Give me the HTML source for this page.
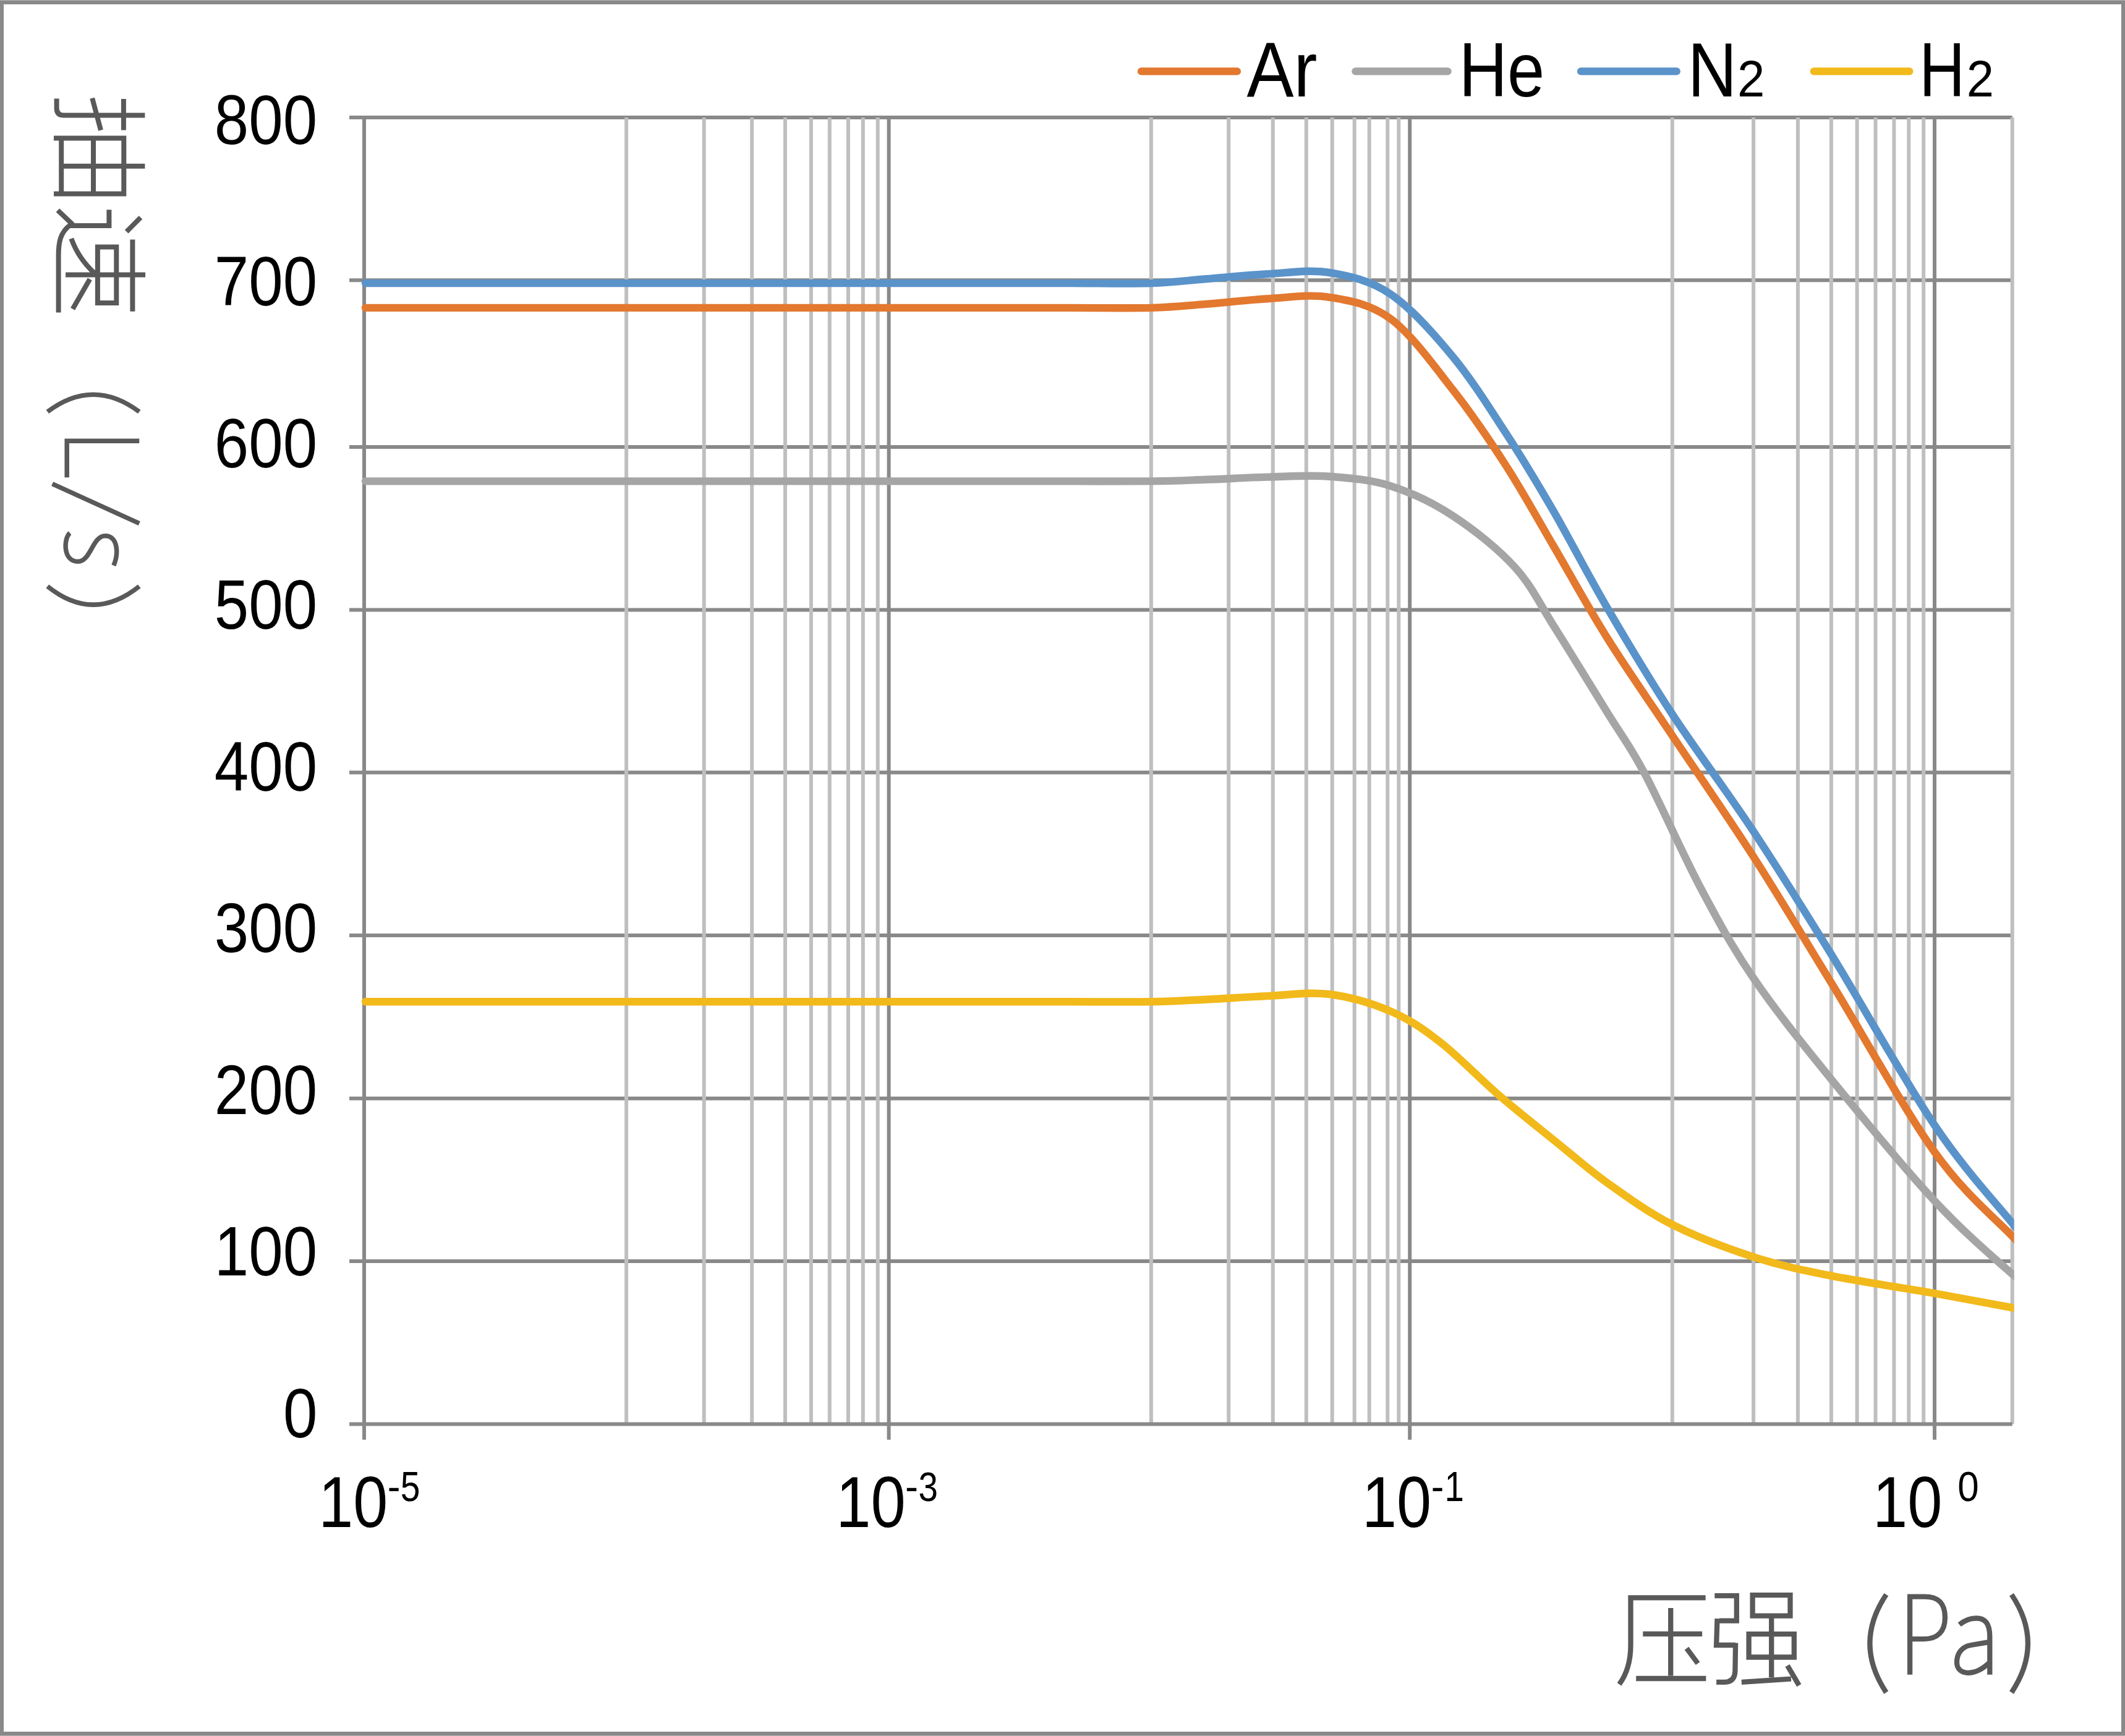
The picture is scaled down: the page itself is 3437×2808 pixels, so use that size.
<!DOCTYPE html><html><head><meta charset="utf-8"><style>html,body{margin:0;padding:0;background:#fff;overflow:hidden}svg{display:block}text{font-family:"Liberation Sans",sans-serif}</style></head><body>
<svg width="3437" height="2808" viewBox="0 0 3437 2808">
<rect x="0" y="0" width="3437" height="2808" fill="#fff"/>
<rect x="3" y="4" width="3431" height="2800" fill="none" stroke="#898989" stroke-width="6"/>
<path d="M0,0.5H3437 M0,2807.5H3437" stroke="#b4b4b4" stroke-width="1"/>
<path d="M565,189.9H3254.7 M565,453.2H3254.7 M565,723.0H3254.7 M565,986.4H3254.7 M565,1249.5H3254.7 M565,1512.9H3254.7 M565,1776.7H3254.7 M565,2040.0H3254.7" stroke="#898989" stroke-width="6" fill="none"/>
<path d="M1013.1,189.9V2303.5 M1138.7,189.9V2303.5 M1216.2,189.9V2303.5 M1270.0,189.9V2303.5 M1311.9,189.9V2303.5 M1341.8,189.9V2303.5 M1371.9,189.9V2303.5 M1395.8,189.9V2303.5 M1419.7,189.9V2303.5 M1861.9,189.9V2303.5 M1987.2,189.9V2303.5 M2058.8,189.9V2303.5 M2112.8,189.9V2303.5 M2154.7,189.9V2303.5 M2190.7,189.9V2303.5 M2214.7,189.9V2303.5 M2244.3,189.9V2303.5 M2262.3,189.9V2303.5 M2704.8,189.9V2303.5 M2836.1,189.9V2303.5 M2907.9,189.9V2303.5 M2961.9,189.9V2303.5 M3003.6,189.9V2303.5 M3033.5,189.9V2303.5 M3063.4,189.9V2303.5 M3087.3,189.9V2303.5 M3111.2,189.9V2303.5 M3254.7,189.9V2303.5" stroke="#bfbfbf" stroke-width="6" fill="none"/>
<path d="M589.0,189.9V2328.8 M1437.6,189.9V2328.8 M2280.2,189.9V2328.8 M3129.0,189.9V2328.8 M565,2303.5H3254.7" stroke="#898989" stroke-width="6" fill="none"/>
<defs><clipPath id="pc"><rect x="0" y="0" width="3257.5" height="2808"/></clipPath></defs>
<g clip-path="url(#pc)" fill="none" stroke-width="12.4" stroke-linecap="round" stroke-linejoin="round">
<path d="M591,497.9 L1600.0,497.9 C1621.7,497.9 1686.3,497.9 1730.0,497.9 C1773.7,497.9 1825.3,498.9 1862.0,497.9 C1898.7,496.9 1918.7,494.3 1950.0,491.9 C1981.3,489.5 2016.7,485.1 2050.0,483.3 C2083.3,481.5 2116.7,475.3 2150.0,480.8 C2183.3,486.3 2216.7,491.3 2250.0,516.3 C2283.3,541.3 2319.0,591.2 2350.0,630.7 C2381.0,670.2 2409.0,711.6 2436.0,753.5 C2463.0,795.4 2484.7,835.5 2512.0,882.0 C2539.3,928.5 2568.0,981.5 2600.0,1032.6 C2632.0,1083.7 2664.7,1129.8 2704.0,1188.6 C2743.3,1247.4 2793.0,1318.6 2836.0,1385.5 C2879.0,1452.4 2913.2,1510.2 2962.0,1589.8 C3010.8,1669.4 3079.8,1794.6 3129.0,1863.3 C3178.2,1932.0 3225.2,1968.8 3257.0,2002.0 C3288.8,2035.2 3309.5,2052.6 3320.0,2062.7" stroke="#e3782f"/>
<path d="M591,778.4 L1600.0,778.4 C1621.7,778.4 1686.3,778.4 1730.0,778.4 C1773.7,778.4 1825.3,778.8 1862.0,778.4 C1898.7,778.0 1918.7,776.9 1950.0,775.8 C1981.3,774.7 2016.7,772.5 2050.0,771.6 C2083.3,770.8 2116.7,768.2 2150.0,770.7 C2183.3,773.2 2216.7,775.7 2250.0,786.3 C2283.3,796.9 2316.7,812.7 2350.0,834.5 C2383.3,856.3 2422.5,887.1 2450.0,917.3 C2477.5,947.5 2490.0,976.4 2515.0,1015.7 C2540.0,1055.0 2575.8,1113.8 2600.0,1153.0 C2624.2,1192.2 2635.0,1204.0 2660.0,1251.0 C2685.0,1298.0 2720.7,1379.8 2750.0,1435.0 C2779.3,1490.2 2800.7,1530.3 2836.0,1582.1 C2871.3,1633.9 2913.2,1685.8 2962.0,1745.8 C3010.8,1805.8 3079.8,1889.6 3129.0,1942.4 C3178.2,1995.2 3225.2,2034.9 3257.0,2062.9 C3288.8,2090.9 3309.5,2102.7 3320.0,2110.6" stroke="#a5a5a5"/>
<path d="M591,458.1 L1600.0,458.1 C1621.7,458.1 1686.3,458.1 1730.0,458.1 C1773.7,458.1 1825.3,459.2 1862.0,458.1 C1898.7,457.0 1918.7,453.7 1950.0,451.2 C1981.3,448.7 2016.7,445.0 2050.0,443.3 C2083.3,441.6 2116.7,435.4 2150.0,440.9 C2183.3,446.4 2216.7,453.6 2250.0,476.3 C2283.3,499.0 2319.0,539.7 2350.0,577.2 C2381.0,614.7 2409.0,659.8 2436.0,701.2 C2463.0,742.6 2484.7,778.6 2512.0,825.7 C2539.3,872.8 2568.0,929.2 2600.0,983.9 C2632.0,1038.6 2664.7,1093.9 2704.0,1154.0 C2743.3,1214.1 2793.0,1279.6 2836.0,1344.6 C2879.0,1409.6 2913.2,1464.6 2962.0,1543.8 C3010.8,1623.0 3079.8,1747.1 3129.0,1820.0 C3178.2,1892.9 3225.2,1942.4 3257.0,1981.3 C3288.8,2020.2 3309.5,2041.5 3320.0,2053.6" stroke="#5a93c9"/>
<path d="M591,1620.3 L1600.0,1620.3 C1621.7,1620.3 1686.3,1620.3 1730.0,1620.3 C1773.7,1620.3 1825.3,1620.9 1862.0,1620.3 C1898.7,1619.7 1918.7,1618.2 1950.0,1616.7 C1981.3,1615.2 2016.7,1612.5 2050.0,1611.1 C2083.3,1609.7 2116.7,1604.0 2150.0,1608.2 C2183.3,1612.4 2220.0,1623.1 2250.0,1636.1 C2280.0,1649.1 2301.0,1663.6 2330.0,1686.1 C2359.0,1708.6 2392.3,1743.9 2424.0,1771.2 C2455.7,1798.5 2490.7,1826.0 2520.0,1849.7 C2549.3,1873.4 2569.3,1891.8 2600.0,1913.6 C2630.7,1935.4 2664.7,1960.5 2704.0,1980.4 C2743.3,2000.3 2793.0,2019.2 2836.0,2033.1 C2879.0,2047.0 2913.2,2053.9 2962.0,2063.7 C3010.8,2073.5 3079.8,2083.3 3129.0,2092.0 C3178.2,2100.7 3225.2,2109.7 3257.0,2115.6 C3288.8,2121.5 3309.5,2125.4 3320.0,2127.4" stroke="#f2b91b"/>
</g>
<path d="M1846.0,115.4H2000.8999999999999" stroke="#e3782f" stroke-width="12.4" stroke-linecap="round"/>
<path d="M2192.5,115.4H2341.5" stroke="#a5a5a5" stroke-width="12.4" stroke-linecap="round"/>
<path d="M2557.1,115.4H2711.7000000000003" stroke="#5a93c9" stroke-width="12.4" stroke-linecap="round"/>
<path d="M2933.8999999999996,115.4H3088.2000000000003" stroke="#f2b91b" stroke-width="12.4" stroke-linecap="round"/>
<text transform="translate(2016.43,156.10) scale(0.9047,1)" font-size="125.99" fill="#000">Ar</text>
<text transform="translate(2359.84,155.75) scale(0.8695,1)" font-size="124.57" fill="#000">He</text>
<text transform="translate(2729.80,156.00) scale(0.8805,1)" font-size="124.93" fill="#000">N</text>
<text transform="translate(2810.01,156.00) scale(0.9596,1)" font-size="83.14" fill="#000">2</text>
<text transform="translate(3104.31,156.00) scale(0.8190,1)" font-size="124.93" fill="#000">H</text>
<text transform="translate(3180.72,156.00) scale(0.9569,1)" font-size="83.14" fill="#000">2</text>
<text transform="translate(346.81,232.58) scale(0.8875,1)" font-size="112.39" fill="#000">800</text>
<text transform="translate(346.81,494.08) scale(0.8875,1)" font-size="112.39" fill="#000">700</text>
<text transform="translate(346.81,755.58) scale(0.8875,1)" font-size="112.39" fill="#000">600</text>
<text transform="translate(346.81,1017.08) scale(0.8875,1)" font-size="112.39" fill="#000">500</text>
<text transform="translate(346.81,1278.58) scale(0.8875,1)" font-size="112.39" fill="#000">400</text>
<text transform="translate(346.81,1540.08) scale(0.8875,1)" font-size="112.39" fill="#000">300</text>
<text transform="translate(346.81,1801.58) scale(0.8875,1)" font-size="112.39" fill="#000">200</text>
<text transform="translate(346.81,2063.08) scale(0.8875,1)" font-size="112.39" fill="#000">100</text>
<text transform="translate(458.03,2324.58) scale(0.8875,1)" font-size="112.39" fill="#000">0</text>
<text transform="translate(515.15,2470.03) scale(0.8614,1)" font-size="116.90" fill="#000">10</text>
<text transform="translate(626.79,2427.11) scale(0.9426,1)" font-size="66.25" fill="#000">-</text>
<text transform="translate(647.72,2427.62) scale(0.8425,1)" font-size="67.71" fill="#000">5</text>
<text transform="translate(1352.21,2470.03) scale(0.8657,1)" font-size="116.90" fill="#000">10</text>
<text transform="translate(1463.95,2427.11) scale(0.9549,1)" font-size="66.25" fill="#000">-</text>
<text transform="translate(1485.44,2427.62) scale(0.8371,1)" font-size="67.61" fill="#000">3</text>
<text transform="translate(2202.94,2470.03) scale(0.8623,1)" font-size="116.90" fill="#000">10</text>
<text transform="translate(2314.81,2427.11) scale(0.9365,1)" font-size="66.25" fill="#000">-</text>
<text transform="translate(2336.46,2427.80) scale(0.8314,1)" font-size="67.97" fill="#000">1</text>
<text transform="translate(3029.12,2470.03) scale(0.8648,1)" font-size="116.90" fill="#000">10</text>
<text transform="translate(3166.32,2427.62) scale(0.9155,1)" font-size="67.61" fill="#000">0</text>
<path d="M91.6,159.5 L91.6,174.9 Q91.6,186.5 103.8,186.5 L234.4,186.5 M149.2,158.8 L163.0,210.6 M199.9,160.0 L199.9,210.6 M87.0,223.5 L200.3,223.5 L200.3,313.6 L87.0,313.6 M99.2,223.5 L99.2,313.6 M99.2,268.7 L234.4,268.7 M151.0,223.5 L151.0,313.6 M93.4,340.1 L117.6,363.2 M114.1,365.0 L176.4,365.0 L176.4,339.2 M204.7,374.7 L227.5,351.7 M113.5,363.9 C96.9,376.5 94.6,392.7 94.6,413.4 L94.6,505.6 M115.3,385.8 Q126.8,418.0 153.3,442.2 M157.9,399.6 L188.3,399.6 L188.3,489.9 L157.9,489.9 Z M106.1,444.5 L235.1,444.5 M214.4,387.6 L214.4,503.7 M145.3,451.4 L117.6,499.8" fill="none" stroke="#595959" stroke-width="8"/>
<path d="M76.8,666.1 Q150.7,610.4 225.3,666.1 M225.3,713.2 L108.2,713.2 L108.2,772.3 M84.6,782.6 L225.3,846.6 M113.1,862.2 C102.7,870.7 101.5,908.3 126.1,908.3 C146.8,908.3 149.4,866.8 170.1,866.8 C190.8,866.8 192.1,895.3 183.8,914.8 M76.8,948.4 Q150.7,1008.0 225.3,948.4" fill="none" stroke="#595959" stroke-width="7.5"/>
<path d="M2633.3,2584.4 L2758.6,2584.4 M2637.5,2580.2 L2637.5,2661.0 Q2637.5,2699.3 2619.0,2724.4 M2657.3,2642.9 L2753.1,2642.9 M2702.2,2601.1 L2702.2,2710.4 M2646.2,2715.0 L2759.3,2715.0 M2728.0,2666.2 L2746.1,2690.6 M2773.3,2581.2 L2808.8,2581.2 L2808.8,2621.6 L2780.9,2621.6 M2777.5,2618.2 L2776.1,2661.0 L2807.1,2661.0 M2807.1,2657.5 L2806.4,2702.8 Q2805.7,2720.9 2788.9,2720.9 L2776.1,2720.9 M2834.6,2580.2 L2895.5,2580.2 L2895.5,2613.6 L2834.6,2613.6 Z M2828.6,2643.2 L2901.8,2643.2 L2901.8,2680.5 L2828.6,2680.5 Z M2865.2,2613.6 L2865.2,2713.2 M2816.8,2720.9 L2896.9,2715.7 M2891.0,2694.1 L2909.8,2726.1" fill="none" stroke="#595959" stroke-width="8.3"/>
<path d="M3050.8,2579.2 Q2997.9,2658.2 3050.8,2737.6 M3253.5,2579.2 Q3306.4,2658.2 3253.5,2737.6 M3089.1,2708.7 L3089.1,2582.6 L3112.8,2582.6 C3137.2,2582.6 3145.9,2594.8 3145.9,2616.4 C3145.9,2639.4 3133.7,2651.2 3111.1,2651.2 L3089.1,2651.2 M3169.2,2627.9 C3179.0,2619.9 3187.7,2617.5 3196.4,2617.5 C3212.1,2617.5 3218.3,2627.9 3218.3,2647.1 L3218.3,2708.7 M3218.3,2655.8 L3187.7,2661.0 C3168.5,2664.5 3165.0,2680.1 3165.0,2688.8 C3165.0,2709.7 3192.9,2713.2 3218.3,2688.8" fill="none" stroke="#595959" stroke-width="8.3"/>
</svg></body></html>
